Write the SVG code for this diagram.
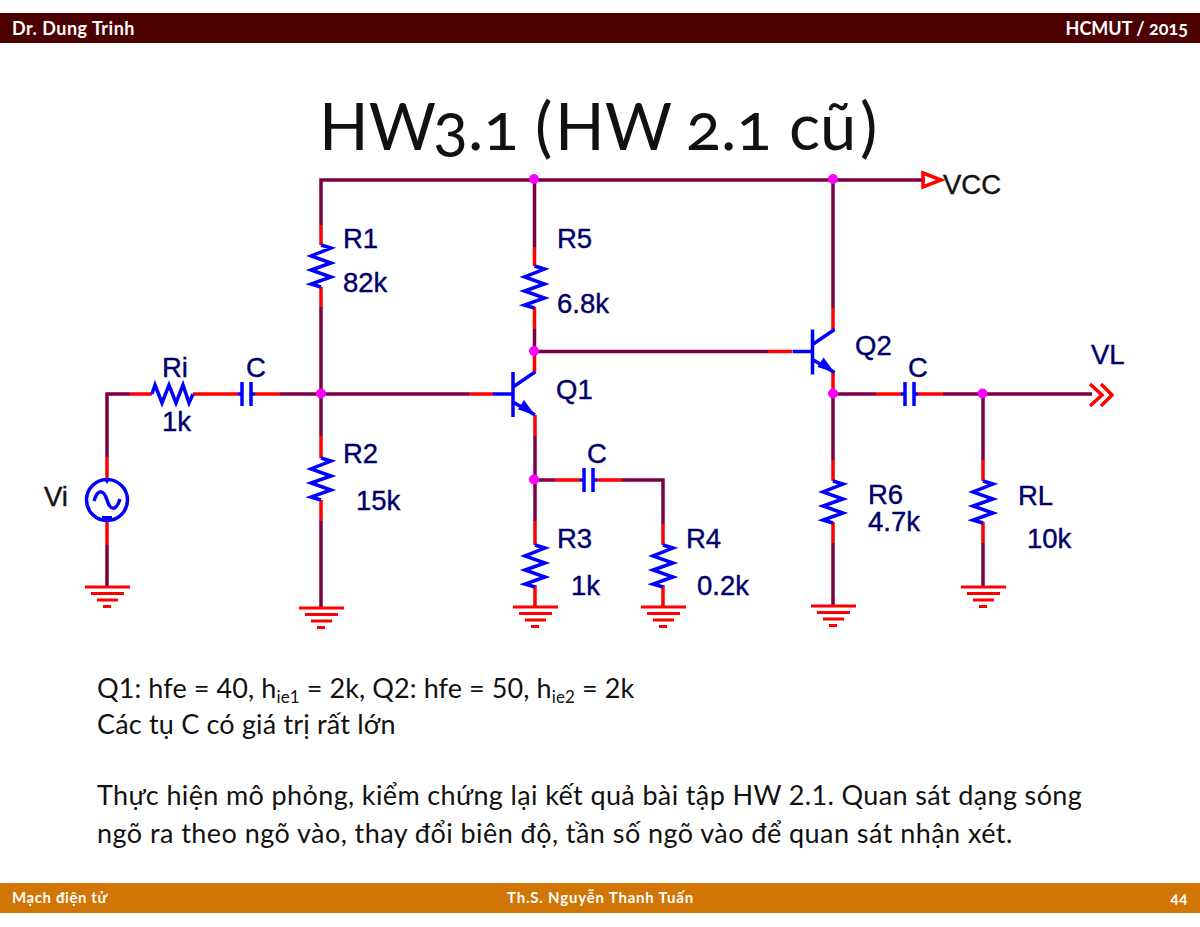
<svg xmlns="http://www.w3.org/2000/svg" width="1200" height="927" viewBox="0 0 1200 927">
<style>
.w{fill:none;stroke:#7a0045;stroke-width:3.5}
.r{fill:none;stroke:#ff0000;stroke-width:3.5}
.b{fill:none;stroke:#0000ff;stroke-width:3.5}
.rr{fill:none;stroke:#ff0000;stroke-width:3}
.l{font-family:"Liberation Sans",Arial,sans-serif;font-size:27.500px;fill:#00006b;stroke:#00006b;stroke-width:.4px}
.d{fill:#111;stroke:#111}
.k{font-family:"Lato","Open Sans",sans-serif;font-size:27px;fill:#111}
.h{font-family:"Lato","Open Sans",sans-serif;font-size:18px;font-weight:700;fill:#fff;font-feature-settings:"onum"}
.f{font-family:"Lato","Open Sans",sans-serif;font-size:15px;font-weight:700;fill:#fff;letter-spacing:.6px;font-feature-settings:"onum"}
.j{fill:#ff00ff}
</style>
<defs>
<g id="gnd"><path class="rr" d="M-22 0H23M-16 6.500H17M-10 13H11M-4 19.500H4"/></g>
<path id="zv" class="b" d="M0 0L10 3L-10 11L10 18L-10 25L10 32L-10 39L0 42"/>
<path id="zh" class="b" d="M0 0L3 -9L10 9L17 -9L24 9L31 -9L37 9L41 0"/>
<g id="cap"><path class="b" d="M0 -12V12M9 -12V12M-4 0H0M9 0H13"/></g>
<g id="npn"><path class="b" d="M0 -22V23M-20 0H0M0 -7L22 -22M0 8L22 21"/><path d="M22 21L5 15.500L11 6Z" fill="#0000ff"/></g>
</defs>
<rect x="0" y="13" width="1200" height="30" fill="#4d0000"/>
<rect x="0" y="883" width="1200" height="30" fill="#d17505"/>
<text class="h" x="12" y="35" letter-spacing=".5">Dr. Dung Trinh</text>
<text class="h" x="1188" y="35" text-anchor="end">HCMUT / 2015</text>
<text class="f" x="12" y="903">Mạch điện tử</text>
<text class="f" x="507" y="903" style="letter-spacing:.8px">Th.S. Nguyễn Thanh Tuấn</text>
<text class="f" x="1188" y="903" text-anchor="end">44</text>
<text y="150" font-family="Lato,'Open Sans',sans-serif" font-size="65" fill="#111" style="font-feature-settings:'onum'"><tspan x="319">HW</tspan><tspan x="433">3.1 </tspan><tspan x="535">(</tspan><tspan x="555">HW </tspan><tspan x="686">2.1 </tspan><tspan x="789">cũ</tspan><tspan x="860">)</tspan></text>
<g id="connectors">
<path class="w" d="M925 180H321V225M321 307V436M321 521V608M534.500 180V247M534.500 329V351M536 351.500H768M833 180V308M321 394H469M107 457V394H130M280 394H321M535 436V521M535 480H555M622 480H663V524M833 394H876M943 394H1092M833 394V460M833 543V606M983 394V460M983 543V587M107 545V587"/>
<path class="r" d="M321 225V245M321 287V307M321 436V458M321 500V521M534.500 247V266M534.500 307V329M534.500 351V373M768 351.500H792M833 308V330M833 372V394M469 394H494M107 457V480M107 522V545M130 394H152M193 394H238M255 394H280M535 415V436M555 480H580M597 480H622M663 524V545M663 585V607M535 521V545M535 585V607M876 394H901M918 394H943M833 460V481M833 522V543M983 460V481M983 522V543"/>
</g>
<g id="Vi"><circle cx="107" cy="500" r="20.500" class="b"/><path class="b" d="M94 501C98 488 104 490 107 500C110 510 116 512 120 499"/><path d="M107 484l-3 -5h6zM102 516h10v3h-10z" fill="#0000ff"/><text class="l d" x="44" y="506">Vi</text></g>
<g id="Ri"><use href="#zh" x="152" y="394"/><text class="l" x="162" y="377">Ri</text><text class="l" x="162" y="431">1k</text></g>
<g id="C1"><use href="#cap" x="242" y="394"/><text class="l" x="246" y="377">C</text></g>
<g id="R1"><use href="#zv" x="321" y="245"/><text class="l" x="343" y="248">R1</text><text class="l" x="343" y="292">82k</text></g>
<g id="R2"><use href="#zv" x="321" y="458"/><text class="l" x="343" y="463">R2</text><text class="l" x="356" y="510">15k</text></g>
<g id="R5"><use href="#zv" x="534.500" y="266"/><text class="l" x="557" y="248">R5</text><text class="l" x="557" y="313">6.8k</text></g>
<g id="Q1"><use href="#npn" x="513" y="394"/><text class="l" x="556" y="399">Q1</text></g>
<g id="C2"><use href="#cap" x="584" y="480"/><text class="l" x="587" y="463">C</text></g>
<g id="R3"><use href="#zv" x="535" y="545"/><text class="l" x="557" y="548">R3</text><text class="l" x="571" y="595">1k</text></g>
<g id="R4"><use href="#zv" x="663" y="545"/><text class="l" x="686" y="548">R4</text><text class="l" x="697" y="595">0.2k</text></g>
<g id="Q2"><use href="#npn" x="812.500" y="351.500"/><text class="l" x="855" y="355">Q2</text></g>
<g id="C3"><use href="#cap" x="905" y="394"/><text class="l" x="908" y="377">C</text></g>
<g id="R6"><use href="#zv" x="833" y="481"/><text class="l" x="868" y="504">R6</text><text class="l" x="868" y="531">4.7k</text></g>
<g id="RL"><use href="#zv" x="983" y="481"/><text class="l" x="1018" y="505">RL</text><text class="l" x="1027" y="548">10k</text></g>
<g id="grounds"><use href="#gnd" x="107" y="587"/><use href="#gnd" x="321" y="608"/><use href="#gnd" x="535" y="607"/><use href="#gnd" x="663" y="607"/><use href="#gnd" x="833" y="606"/><use href="#gnd" x="983" y="587"/></g>
<g id="VCC"><path class="r" d="M923 173L941 180L923 187Z" fill="none"/><text class="l d" x="943" y="194">VCC</text></g>
<g id="VL"><path class="r" d="M1090 384L1102 395L1090 406M1101 384L1112 395L1101 406"/><text class="l" x="1091" y="364">VL</text></g>
<g id="junctions"><circle class="j" cx="534" cy="179" r="5"/><circle class="j" cx="833" cy="179" r="5"/><circle class="j" cx="534" cy="351" r="5"/><circle class="j" cx="321" cy="393.500" r="5"/><circle class="j" cx="534" cy="479.500" r="5"/><circle class="j" cx="833" cy="393.500" r="5"/><circle class="j" cx="982.500" cy="393.500" r="5"/></g>
<text class="k" x="97" y="698" letter-spacing=".1">Q1: hfe = 40, h<tspan font-size="17" dy="5">ie1</tspan><tspan dy="-5"> = 2k, Q2: hfe = 50, h</tspan><tspan font-size="17" dy="5">ie2</tspan><tspan dy="-5"> = 2k</tspan></text>
<text class="k" x="97" y="734" letter-spacing=".18">Các tụ C có giá trị rất lớn</text>
<text class="k" x="97" y="805" letter-spacing=".37">Thực hiện mô phỏng, kiểm chứng lại kết quả bài tập HW 2.1. Quan sát dạng sóng</text>
<text class="k" x="97" y="843" letter-spacing=".45">ngõ ra theo ngõ vào, thay đổi biên độ, tần số ngõ vào để quan sát nhận xét.</text>
</svg>
